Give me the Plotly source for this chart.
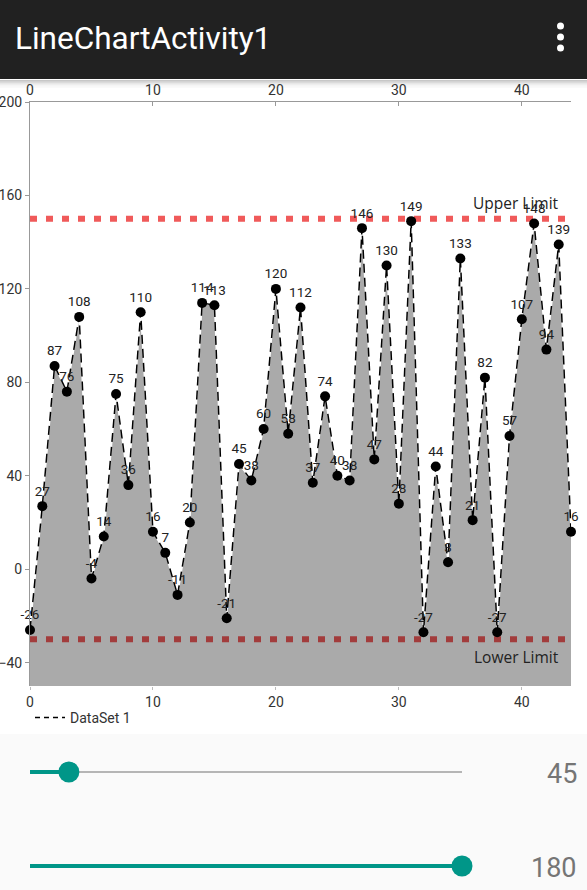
import plotly.graph_objects as go

W, H = 587, 890

# data
x_vals = list(range(45))
y_vals = [-26, 27, 87, 76, 108, -4, 14, 75, 36, 110,
          16, 7, -11, 20, 114, 113, -21, 45, 38, 60,
          120, 58, 112, 37, 74, 40, 38, 146, 47, 130,
          28, 149, -27, 44, 3, 133, 21, 82, -27, 57,
          107, 148, 94, 139, 16]
y_min, y_max = -50, 200
y_ticks = [-40, 0, 40, 80, 120, 160, 200]
x_ticks = [0, 10, 20, 30, 40]
limit_names = ["Upper Limit", "Lower Limit"]
limit_values = [150, -30]
limit_colors = ["#f05a5a", "#a23c3c"]
slider_values = [45, 180]
slider_max = [500, 180]

TEAL = "#009688"
FONT = "Roboto"


def px_x(p):
    return p / W


def px_y(p):
    # pixel row from top -> paper y
    return (H - p) / H


fig = go.Figure()

# area fill down to the axis minimum
fig.add_trace(go.Scatter(x=x_vals, y=[y_min] * len(x_vals), mode="lines",
                         line=dict(width=0), showlegend=False, hoverinfo="skip"))
fig.add_trace(go.Scatter(x=x_vals, y=y_vals, mode="lines", fill="tonexty",
                         fillcolor="#aaaaaa", line=dict(width=0),
                         showlegend=False, hoverinfo="skip"))

# limit lines
for name, val, col in zip(limit_names, limit_values, limit_colors):
    fig.add_trace(go.Scatter(x=[x_vals[0], x_vals[-1]], y=[val, val], mode="lines",
                             line=dict(color=col, width=6, dash="7px,9px"),
                             showlegend=False, hoverinfo="skip"))

# white halo under dashed line
fig.add_trace(go.Scatter(x=x_vals, y=y_vals, mode="lines",
                         line=dict(color="white", width=1.2),
                         showlegend=False, hoverinfo="skip"))

# data line with points and value labels
fig.add_trace(go.Scatter(
    x=x_vals, y=y_vals, mode="lines+markers+text",
    line=dict(color="black", width=1.5, dash="9px,5px"),
    marker=dict(color="black", size=10),
    text=[str(v) for v in y_vals], textposition="top center",
    textfont=dict(family=FONT, size=13.5, color="#222222"),
    showlegend=False, cliponaxis=False,
))

# legend entry only
fig.add_trace(go.Scatter(x=[None], y=[None], mode="lines", name="DataSet 1",
                         line=dict(color="black", width=1.5, dash="5px,4px")))

# dummy trace so the top axis is drawn
fig.add_trace(go.Scatter(x=[x_vals[0]], y=[y_min], xaxis="x2", mode="markers",
                         marker=dict(opacity=0), showlegend=False, hoverinfo="skip"))

# limit labels
fig.add_annotation(x=x_vals[-1], y=limit_values[0], xref="x", yref="y",
                   text=limit_names[0], showarrow=False, xanchor="right",
                   yanchor="bottom", xshift=-10, yshift=3,
                   font=dict(family="Open Sans", size=15.5, color="#222222"))
fig.add_annotation(x=x_vals[-1], y=limit_values[1], xref="x", yref="y",
                   text=limit_names[1], showarrow=False, xanchor="right",
                   yanchor="top", xshift=-10, yshift=-5,
                   font=dict(family="Open Sans", size=15.5, color="#222222"))

# sliders
slider_rows = [772, 866]
for i, (val, mx, row) in enumerate(zip(slider_values, slider_max, slider_rows)):
    ax = "x3" if i == 0 else "x4"
    yv = (H - row)
    if val < mx:
        fig.add_trace(go.Scatter(x=[val, mx], y=[yv, yv], xaxis=ax, yaxis="y3",
                                 mode="lines", line=dict(color="#9e9e9e", width=1.5),
                                 showlegend=False, hoverinfo="skip"))
    fig.add_trace(go.Scatter(x=[0, val], y=[yv, yv], xaxis=ax, yaxis="y3",
                             mode="lines", line=dict(color=TEAL, width=4),
                             showlegend=False, hoverinfo="skip"))
    fig.add_trace(go.Scatter(x=[val], y=[yv], xaxis=ax, yaxis="y3", mode="markers",
                             marker=dict(color=TEAL, size=21), cliponaxis=False,
                             showlegend=False, hoverinfo="skip"))
    fig.add_annotation(x=px_x(579), y=px_y(row), xref="paper", yref="paper",
                       text=str(val), showarrow=False, xanchor="right",
                       yanchor="middle", yshift=-2,
                       font=dict(family=FONT, size=27, color="#757575"))

# app bar, shadow, slider panel
shapes = [
    dict(type="rect", xref="paper", yref="paper", x0=0, x1=1,
         y0=px_y(79), y1=1, fillcolor="#212121", line_width=0, layer="below"),
    dict(type="rect", xref="paper", yref="paper", x0=0, x1=1,
         y0=0, y1=px_y(734), fillcolor="#fafafa", line_width=0, layer="below"),
]
for k, op in enumerate([0.22, 0.14, 0.08, 0.04, 0.02]):
    shapes.append(dict(type="rect", xref="paper", yref="paper", x0=0, x1=1,
                       y0=px_y(80 + (k + 1) * 1.6), y1=px_y(80 + k * 1.6),
                       fillcolor="black", opacity=op, line_width=0, layer="below"))
for cy in [26, 37, 48]:
    shapes.append(dict(type="circle", xref="paper", yref="paper",
                       x0=px_x(557), x1=px_x(564), y0=px_y(cy + 3.5), y1=px_y(cy - 3.5),
                       fillcolor="white", line_width=0))
fig.update_layout(shapes=shapes)

fig.add_annotation(x=px_x(13), y=px_y(38), xref="paper", yref="paper",
                   text="LineChartActivity1", showarrow=False, xanchor="left",
                   yanchor="middle", font=dict(family=FONT, size=31.5, color="white"))

axis_font = dict(family=FONT, size=14, color="#333333")
dom_x = [px_x(30), px_x(571)]
fig.update_layout(
    template="none",
    width=W, height=H,
    margin=dict(l=0, r=0, t=0, b=0, pad=0),
    paper_bgcolor="white", plot_bgcolor="white",
    font=dict(family=FONT),
    xaxis=dict(domain=dom_x, range=[x_vals[0], x_vals[-1]], tickvals=x_ticks,
               showgrid=False, zeroline=False, showline=False, automargin=False,
               ticks="outside", ticklen=3, tickcolor="#bbbbbb",
               tickfont=axis_font, anchor="y"),
    xaxis2=dict(domain=dom_x, range=[x_vals[0], x_vals[-1]], tickvals=x_ticks,
                overlaying="x", side="top", anchor="y", automargin=False,
                showgrid=False, zeroline=False, showline=True, linecolor="#999999",
                linewidth=1, ticks="inside", ticklen=4, tickcolor="#999999",
                tickfont=axis_font),
    yaxis=dict(domain=[px_y(686), px_y(102)], range=[y_min, y_max], tickvals=y_ticks,
               showgrid=False, zeroline=False, showline=True, linecolor="#999999",
               linewidth=1, ticks="outside", ticklen=4, tickcolor="#999999",
               tickfont=axis_font, anchor="x", automargin=False),
    xaxis3=dict(domain=[px_x(30), px_x(462)], range=[0, slider_max[0]],
                visible=False, anchor="y3", automargin=False),
    xaxis4=dict(domain=[px_x(30), px_x(462)], range=[0, slider_max[1]],
                visible=False, anchor="y3", overlaying="x3", automargin=False),
    yaxis3=dict(domain=[0, px_y(734)], range=[0, H - 734], visible=False,
                anchor="x3", automargin=False),
    legend=dict(x=px_x(30), y=px_y(718), xanchor="left", yanchor="middle",
                orientation="h", bgcolor="rgba(0,0,0,0)",
                font=dict(family=FONT, size=14, color="#333333")),
    showlegend=True,
)

# page has a default body margin; drop it so the figure fills the window
fig.write_html("out.html", config={"displayModeBar": False},
               post_script="document.body.style.margin='0px';")
